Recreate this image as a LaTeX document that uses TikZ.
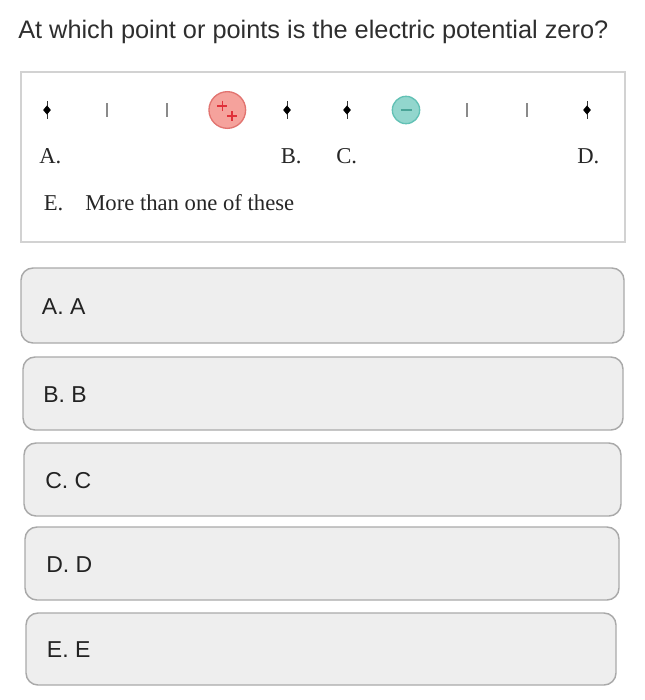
\documentclass[tikz,border=0pt]{standalone}
\usepackage{fontspec}
\setmainfont{Liberation Sans}
\newfontfamily\panelserif{Liberation Serif}
\definecolor{titlecol}{HTML}{2E2E2E}
\definecolor{anscol}{HTML}{222222}
\definecolor{boxfill}{HTML}{EEEEEE}
\definecolor{boxline}{HTML}{A9A9A9}
\definecolor{panelline}{HTML}{D2D2D2}
\definecolor{posfill}{HTML}{F5A29C}
\definecolor{posline}{HTML}{E27470}
\definecolor{possign}{HTML}{E0303A}
\definecolor{negfill}{HTML}{92D6CD}
\definecolor{negline}{HTML}{62C1B5}
\definecolor{negsign}{HTML}{4AA497}
\definecolor{tickcol}{HTML}{8A8A8A}
\tikzset{
  ansbox/.style={draw=boxline, line width=1.1pt, fill=boxfill, rounded corners=9pt, inner sep=0pt},
  anstext/.style={anchor=base west, inner sep=0pt, text=anscol, font=\fontsize{17.25pt}{20pt}\selectfont},
  paneltext/.style={anchor=base west, inner sep=0pt, text=black!85, font=\panelserif\fontsize{17pt}{20pt}\selectfont},
  ptdot/.style={diamond, fill=black, inner sep=0pt, minimum width=6pt, minimum height=7pt},
  tickline/.style={draw=tickcol, line width=0.8pt},
  stemline/.style={draw=black!80, line width=0.7pt},
}
\usetikzlibrary{shapes.geometric}
\begin{document}
\begin{tikzpicture}[x=0.75pt, y=-0.75pt]
\useasboundingbox (0,0) rectangle (644,700);
% title
\node[anchor=base west, inner sep=0pt, text=titlecol, font=\fontsize{19pt}{22pt}\selectfont] (title) at (18,38.3) {At which point or points is the electric potential zero?};
% panel
\node[draw=panelline, line width=0.8pt, fill=white, minimum width=453pt, minimum height=127.5pt, inner sep=0pt] (panel) at (323,157) {};
% point markers
\foreach \nm/\xx in {pA/47, pB/287, pC/347, pD/587}{
  \coordinate (\nm top) at (\xx,101);
  \coordinate (\nm bot) at (\xx,119);
  \draw[stemline] (\nm top) -- (\nm bot);
  \node[ptdot] (\nm) at (\xx,110) {};
}
% ticks
\foreach \nm/\xx in {t1/107, t2/167, t3/467, t4/527}{
  \coordinate (\nm top) at (\xx,103);
  \coordinate (\nm bot) at (\xx,117);
  \draw[tickline] (\nm top) -- (\nm bot);
}
% positive charge
\node[circle, draw=posline, line width=1pt, fill=posfill, minimum size=27.5pt, inner sep=0pt] (qpos) at (227.3,110) {};
\draw[possign, line width=1.2pt] (222.4,100.7) -- (222.4,110.7) (217.4,105.7) -- (227.4,105.7);
\draw[possign, line width=1.2pt] (232,111) -- (232,121) (227,116) -- (237,116);
% negative charge
\node[circle, draw=negline, line width=1pt, fill=negfill, minimum size=20.5pt, inner sep=0pt] (qneg) at (406,110) {};
\draw[negsign, line width=1.1pt] (400.5,110) -- (411.5,110);
% labels
\node[paneltext] (lA) at (39,163.5) {A.};
\node[paneltext] (lB) at (280.5,163.5) {B.};
\node[paneltext] (lC) at (336,163.5) {C.};
\node[paneltext] (lD) at (577,163.5) {D.};
\node[paneltext] (lE) at (43.5,210) {E.};
\node[paneltext] (lEtxt) at (85,210) {More than one of these};
% answer boxes
\node[ansbox, minimum width=452.25pt, minimum height=56.25pt] (boxA) at (322.5,305.5) {};
\node[ansbox, minimum width=450pt, minimum height=54.75pt] (boxB) at (323,393.5) {};
\node[ansbox, minimum width=447.75pt, minimum height=54.75pt] (boxC) at (322.5,479.5) {};
\node[ansbox, minimum width=445.5pt, minimum height=54.75pt] (boxD) at (322,563.5) {};
\node[ansbox, minimum width=442.5pt, minimum height=54pt] (boxE) at (321,649) {};
\node[anstext] (txtA) at (41.7,314.5) {A. A};
\node[anstext] (txtB) at (43,402) {B. B};
\node[anstext] (txtC) at (45,488) {C. C};
\node[anstext] (txtD) at (46,572) {D. D};
\node[anstext] (txtE) at (46.7,657.5) {E. E};
\end{tikzpicture}
\end{document}
